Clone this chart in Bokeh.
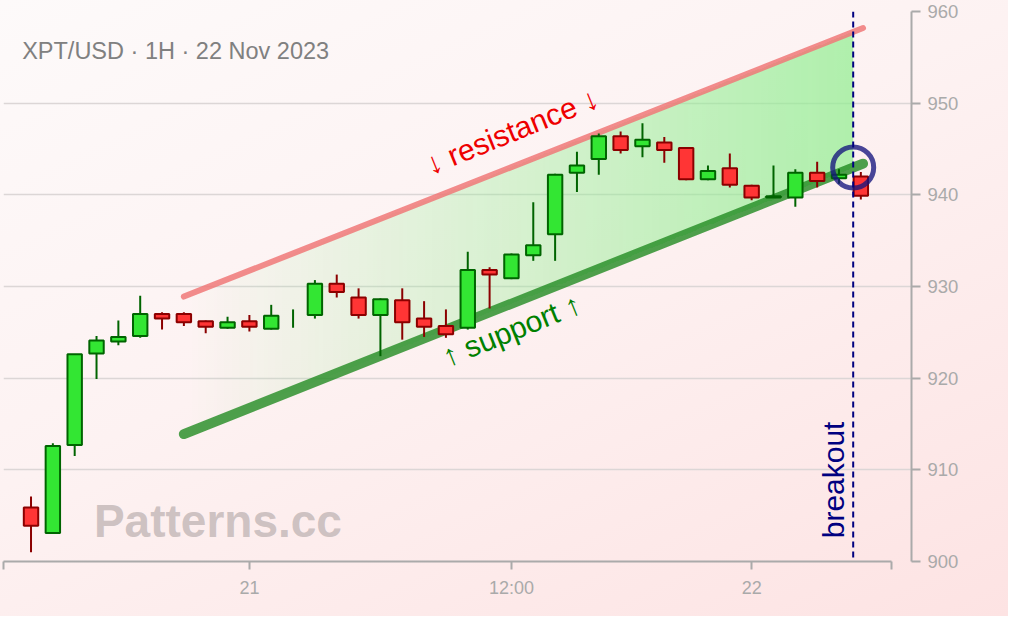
import numpy as np
from bokeh.plotting import figure
from bokeh.models import ColumnDataSource, FixedTicker, Span, Label, Range1d
from bokeh.embed import file_html
from bokeh.resources import INLINE

# ---------------- data ----------------
candle_index = list(range(39))
open_ = [905.9, 903.1, 912.7, 922.7, 924.0, 924.6, 927.0, 927.0, 926.2, 925.5,
         926.2, 925.4, 926.5, 926.9, 930.3, 928.8, 926.9, 928.5, 926.5, 925.7,
         925.5, 931.8, 930.9, 933.4, 935.7, 942.4, 943.9, 946.4, 945.3, 945.7,
         945.1, 941.7, 942.9, 941.0, 939.7, 939.7, 942.4, 941.8, 942.0]
high = [907.1, 912.9, 922.6, 924.6, 926.3, 929.0, 927.2, 927.2, 926.3, 926.7,
        926.9, 928.0, 927.5, 930.7, 931.3, 929.8, 928.7, 929.8, 928.4, 927.5,
        933.8, 932.1, 933.6, 939.2, 942.3, 944.7, 946.7, 946.9, 947.8, 946.3,
        945.2, 943.2, 944.5, 941.1, 943.2, 942.8, 943.6, 942.8, 942.5]
low = [901.0, 903.0, 911.5, 919.9, 923.6, 924.4, 925.3, 925.7, 924.9, 925.4,
       925.1, 925.3, 925.5, 926.5, 928.8, 926.5, 922.4, 924.2, 924.5, 924.4,
       925.3, 927.6, 930.8, 932.8, 932.8, 940.3, 942.2, 944.5, 944.1, 943.5,
       941.6, 941.6, 940.8, 939.4, 939.7, 938.7, 940.8, 941.2, 939.5]
close = [903.9, 912.6, 922.6, 924.1, 924.5, 927.0, 926.5, 926.1, 925.6, 926.1,
         925.6, 926.8, 926.5, 930.3, 929.4, 926.9, 928.6, 926.1, 925.6, 924.8,
         931.8, 931.3, 933.5, 934.5, 942.2, 943.2, 946.4, 944.9, 946.0, 944.9,
         941.7, 942.6, 941.1, 939.7, 939.85, 942.4, 941.5, 942.2, 939.9]

tick_index = [10, 22, 33]
tick_text = ["21", "12:00", "22"]
price_ticks = [900, 910, 920, 930, 940, 950, 960]

channel_x = [7.0, 38.1]
resistance_y = [928.9, 958.2]
support_y = [913.9, 943.4]
breakout_index = 37.65

title_text = "XPT/USD · 1H · 22 Nov 2023"

# ---------------- figure ----------------
X0, X1 = -1.26, 40.32
Y0, Y1 = 900, 960
AX_END = 39.4
FONT = "Liberation Sans"

p = figure(width=1008, height=616, x_range=Range1d(X0, X1), y_range=Range1d(Y0, Y1),
           y_axis_location="right", output_backend="svg", toolbar_location=None,
           min_border_left=3, min_border_top=11, min_border_right=97, min_border_bottom=55)
p.background_fill_color = None
p.border_fill_color = None
p.styles = {"background": "linear-gradient(155deg, #fdfafa 0%, #fdf2f2 45%, #fde3e3 100%)"}
p.outline_line_color = None

p.xgrid.visible = False
p.ygrid.grid_line_color = "#dcd6d6"
p.ygrid.grid_line_width = 1.5

p.yaxis.ticker = FixedTicker(ticks=price_ticks)
p.yaxis.axis_line_color = "#aaaaaa"
p.yaxis.axis_line_width = 2
p.yaxis.major_tick_line_color = "#aaaaaa"
p.yaxis.major_tick_line_width = 2
p.yaxis.major_tick_out = 9
p.yaxis.major_tick_in = 0
p.yaxis.minor_tick_out = 0
p.yaxis.minor_tick_in = 0
p.yaxis.major_label_text_color = "#aaaaaa"
p.yaxis.major_label_text_font = FONT
p.yaxis.major_label_text_font_size = "18.5px"
p.yaxis.major_label_standoff = 7

xt = [X0] + tick_index + [AX_END]
p.xaxis.ticker = FixedTicker(ticks=xt)
overrides = {X0: "", AX_END: ""}
for t, s in zip(tick_index, tick_text):
    overrides[t] = s
p.xaxis.major_label_overrides = overrides
p.xaxis.bounds = (X0, AX_END)
p.xaxis.axis_line_color = "#aaaaaa"
p.xaxis.axis_line_width = 2
p.xaxis.major_tick_line_color = "#aaaaaa"
p.xaxis.major_tick_line_width = 2
p.xaxis.major_tick_out = 8
p.xaxis.major_tick_in = 0
p.xaxis.minor_tick_out = 0
p.xaxis.minor_tick_in = 0
p.xaxis.major_label_text_color = "#aaaaaa"
p.xaxis.major_label_text_font = FONT
p.xaxis.major_label_text_font_size = "18px"
p.xaxis.major_label_standoff = 8

# ---------------- channel fill (gradient) ----------------
def res_at(x):
    return resistance_y[0] + (resistance_y[1] - resistance_y[0]) * (x - channel_x[0]) / (channel_x[1] - channel_x[0])

def sup_at(x):
    return support_y[0] + (support_y[1] - support_y[0]) * (x - channel_x[0]) / (channel_x[1] - channel_x[0])

fx0, fx1 = channel_x[0], breakout_index
fy0, fy1 = min(support_y), max(resistance_y)
nx, ny = 700, 440
gx = fx0 + (np.arange(nx) + 0.5) * (fx1 - fx0) / nx
gy = fy0 + (np.arange(ny) + 0.5) * (fy1 - fy0) / ny
GX, GY = np.meshgrid(gx, gy)
inside = (GY >= sup_at(GX)) & (GY <= res_at(GX))
rgba = np.zeros((ny, nx, 4), dtype=np.uint8)
rgba[..., 0] = 144
rgba[..., 1] = 238
rgba[..., 2] = 144
alpha = 0.72 * (GX - fx0) / (fx1 - fx0)
rgba[..., 3] = np.where(inside, (alpha * 255).astype(np.uint8), 0)
img = rgba.view(np.uint32).reshape(ny, nx)
p.image_rgba(image=[img], x=fx0, y=fy0, dw=fx1 - fx0, dh=fy1 - fy0)

# channel lines
p.line(channel_x, resistance_y, line_color="#f07878", line_width=6, line_alpha=0.85, line_cap="round")
p.line(channel_x, support_y, line_color="#228b22", line_width=10, line_alpha=0.8, line_cap="round")

# ---------------- candles ----------------
up = [c >= o for o, c in zip(open_, close)]
src = ColumnDataSource(dict(
    x=candle_index, high=high, low=low,
    top=[max(o, c) for o, c in zip(open_, close)],
    bottom=[min(o, c) for o, c in zip(open_, close)],
    fill=["#33e633" if u else "#ff3535" for u in up],
    line=["#006400" if u else "#8b0000" for u in up],
))
p.segment(x0="x", y0="low", x1="x", y1="high", line_color="line", line_width=2, source=src)
body_rows = [i for i in range(len(candle_index)) if open_[i] != close[i]]
body = ColumnDataSource({k: [v[i] for i in body_rows] for k, v in src.data.items()})
p.vbar(x="x", width=0.66, top="top", bottom="bottom", fill_color="fill",
       line_color="line", line_width=2, source=body)

# ---------------- breakout ----------------
p.add_layout(Span(location=breakout_index, dimension="height", line_color="#000080",
                  line_width=2, line_dash="6 4"))
p.scatter(x=[breakout_index], y=[sup_at(breakout_index)], size=41, fill_color=None,
          line_color="#14147e", line_alpha=0.78, line_width=5)

# ---------------- texts ----------------
ang = 0.385
p.add_layout(Label(x=-0.405, y=955.7, text=title_text, text_font=FONT,
                   text_font_size="23.5px", text_color="#808080", text_baseline="middle"))
p.add_layout(Label(x=2.88, y=904.4, text="Patterns.cc", text_font=FONT,
                   text_font_style="bold", text_font_size="46px", text_color="#c8bcbc",
                   text_baseline="middle", text_alpha=0.9))
p.add_layout(Label(x=22.03, y=946.96, text="↓ resistance ↓", text_font=FONT,
                   text_font_size="30px", text_color="#ee0000", angle=ang,
                   text_align="center", text_baseline="middle"))
p.add_layout(Label(x=22.0, y=925.25, text="↑ support ↑", text_font=FONT,
                   text_font_size="30px", text_color="#008000", angle=ang,
                   text_align="center", text_baseline="middle"))
p.add_layout(Label(x=36.76, y=908.9, text="breakout", text_font=FONT,
                   text_font_size="30px", text_color="#000080", angle=np.pi / 2,
                   text_align="center", text_baseline="middle"))

open("out.html", "w").write(file_html(p, INLINE))
